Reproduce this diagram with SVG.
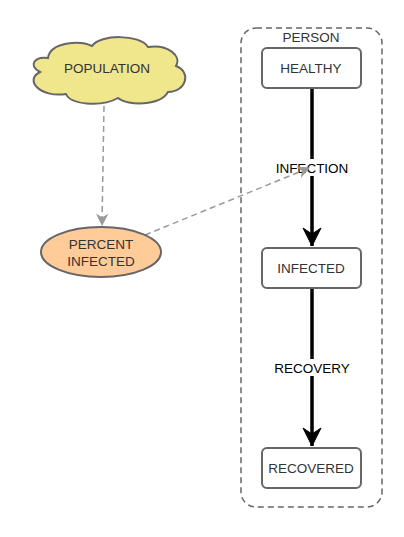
<svg xmlns="http://www.w3.org/2000/svg" width="404" height="537" viewBox="0 0 404 537">
<defs>
<style>
text{font-family:"Liberation Sans",Arial,sans-serif;font-size:13.5px;fill:#333;text-anchor:middle;dominant-baseline:central}
.box{fill:#fff;stroke:#666;stroke-width:2}
.flow{stroke:#000;stroke-width:3.5;fill:none}
.dep{stroke:#999;stroke-width:1.5;stroke-dasharray:6 4;fill:none}
</style>
<marker id="small" markerUnits="userSpaceOnUse" markerWidth="14" markerHeight="14" refX="12" refY="7" orient="auto" viewBox="0 0 14 14">
<path d="M12 7 L2 2 L5 7 L2 12 Z" fill="#999" stroke="#999" stroke-width="1"/>
</marker>
<marker id="bk" markerUnits="userSpaceOnUse" markerWidth="24" markerHeight="24" refX="22" refY="12" orient="auto" viewBox="0 0 24 24">
<path d="M22 12 L4 3 L10 12 L4 21 Z" fill="#000" stroke="#000" stroke-width="1"/>
</marker>
</defs>
<rect width="404" height="537" fill="#fff"/>
<g id="person">
<rect x="241" y="28" width="141" height="479" rx="15" fill="none" stroke="#666" stroke-width="1.5" stroke-dasharray="6 4"/>
<text x="311" y="37">PERSON</text>
</g>
<g id="connectors">
<line class="flow" x1="312" y1="88" x2="312" y2="246" marker-end="url(#bk)"/>
<line class="flow" x1="312" y1="288" x2="312" y2="446" marker-end="url(#bk)"/>
<rect x="267" y="159" width="90" height="17" fill="#fff"/>
<text x="312" y="168" style="fill:#000">INFECTION</text>
<rect x="272" y="359" width="80" height="17" fill="#fff"/>
<text x="312" y="368" style="fill:#000">RECOVERY</text>
<line class="dep" x1="104" y1="106" x2="102" y2="225" marker-end="url(#small)"/>
<line class="dep" x1="145" y1="235" x2="309" y2="168" marker-end="url(#small)"/>
</g>
<g id="population">
<path d="M48 58 C50 42 80 40 92 46 C100 34 140 34 148 47 C168 44 182 56 176 66 C192 72 186 92 168 92 C160 106 128 106 118 98 C100 108 70 104 66 94 C40 98 24 80 40 72 C28 66 34 56 48 58 Z" fill="#f0e68c" stroke="#666" stroke-width="2"/>
<text x="107" y="68">POPULATION</text>
</g>
<g id="percent-infected">
<ellipse cx="101" cy="252" rx="60" ry="25" fill="#ffcc99" stroke="#666" stroke-width="2"/>
<text x="101" y="244">PERCENT</text>
<text x="101" y="261">INFECTED</text>
</g>
<g id="healthy">
<rect class="box" x="262" y="48" width="99" height="40" rx="5"/>
<text x="311" y="68">HEALTHY</text>
</g>
<g id="infected">
<rect class="box" x="262" y="248" width="99" height="40" rx="5"/>
<text x="311" y="268">INFECTED</text>
</g>
<g id="recovered">
<rect class="box" x="262" y="448" width="99" height="40" rx="5"/>
<text x="311" y="468">RECOVERED</text>
</g>
</svg>
